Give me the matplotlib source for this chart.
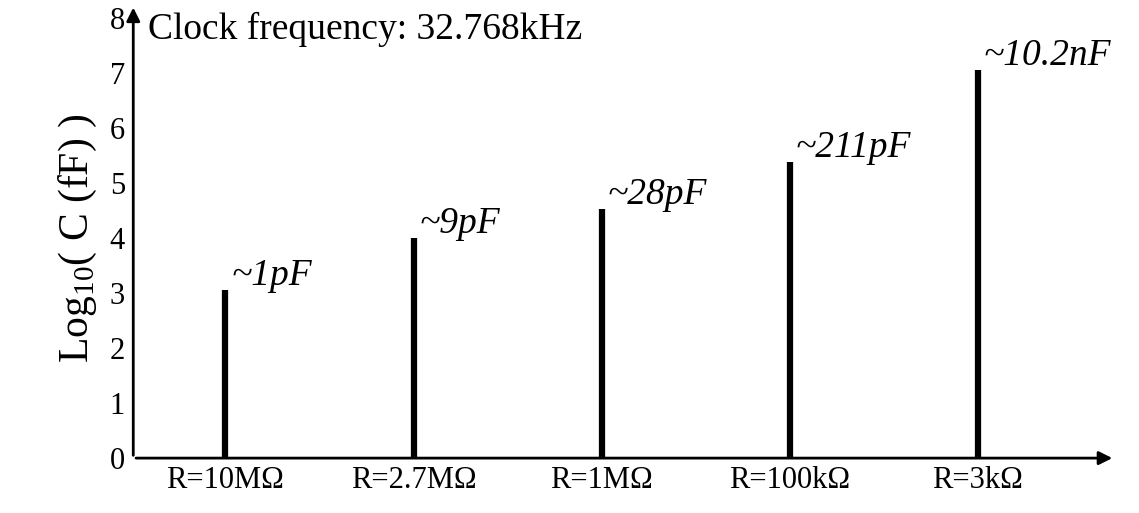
import matplotlib
matplotlib.use("Agg")
import matplotlib.pyplot as plt

resistors = ["R=10M\u03a9", "R=2.7M\u03a9", "R=1M\u03a9", "R=100k\u03a9", "R=3k\u03a9"]
log_cap = [3.05, 4.0, 4.52, 5.38, 7.05]
cap_labels = ["~1pF", "~9pF", "~28pF", "~211pF", "~10.2nF"]

plt.rcParams['font.family'] = ['Liberation Serif', 'DejaVu Serif']
plt.rcParams['mathtext.fontset'] = 'custom'
plt.rcParams['mathtext.rm'] = 'Liberation Serif'

fig = plt.figure(figsize=(11.39, 5.13), dpi=100)
ax = fig.add_axes([0.117, 0.107, 0.862, 0.858])
xs = list(range(1, len(log_cap) + 1))
ax.vlines(xs, 0, log_cap, color="black", linewidth=4.5)
for x, v, lab in zip(xs, log_cap, cap_labels):
    ax.text(x + 0.03, v - 0.05, lab, fontsize=27, style="italic", va="bottom", ha="left")

ax.set_xlim(0.51, 5.73)
ax.set_ylim(0, 8)
ax.set_xticks(xs)
ax.set_xticklabels(resistors, fontsize=22)
ax.set_yticks(range(0, 9))
ax.tick_params(axis="y", labelsize=22, length=0, pad=6)
ax.tick_params(axis="x", length=0, pad=6)
for s in ["top", "right", "bottom", "left"]:
    ax.spines[s].set_visible(False)

# axes with arrows
ax.annotate("", xy=(1.0, 0), xytext=(0, 0), xycoords="axes fraction",
            arrowprops=dict(arrowstyle="-|>", color="black", lw=2, mutation_scale=20))
ax.annotate("", xy=(0, 1.03), xytext=(0, 0), xycoords="axes fraction",
            arrowprops=dict(arrowstyle="-|>", color="black", lw=2, mutation_scale=20),
            annotation_clip=False)

ax.text(0.015, 0.975, "Clock frequency: 32.768kHz", transform=ax.transAxes,
        fontsize=27, va="center", ha="left")
ax.set_ylabel(r"Log$_{10}$( C (fF) )", fontsize=30, labelpad=8)

fig.savefig("out.png", dpi=100)
